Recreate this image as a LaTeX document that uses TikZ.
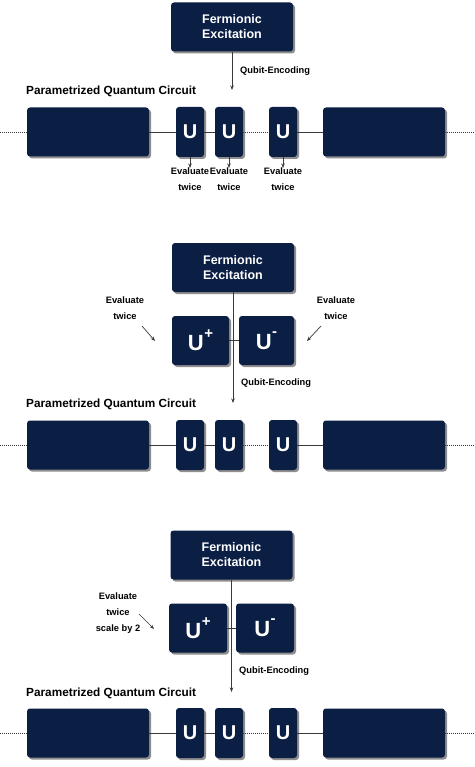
\documentclass[tikz,border=0pt]{standalone}
\usepackage{fontspec}
\setmainfont{Liberation Sans}
\usetikzlibrary{shadows,arrows.meta}
\definecolor{navy}{HTML}{0B1E44}
\definecolor{wire}{HTML}{3A3A3A}
\tikzset{
  qbox/.style={fill=navy, rounded corners=3pt, text=white, align=center, inner sep=0pt,
    drop shadow={shadow xshift=2pt, shadow yshift=-2pt, opacity=0.55, fill=black!80}},
  bigbox/.style={qbox, minimum width=122pt, minimum height=49pt},
  gate/.style={qbox, minimum width=28pt, minimum height=50pt, font=\bfseries\fontsize{20}{20}\selectfont},
  pmgate/.style={qbox, minimum height=49pt, font=\bfseries\fontsize{22}{22}\selectfont},
  fbox/.style={qbox, minimum width=122pt, minimum height=49pt, font=\bfseries\fontsize{12.5}{15}\selectfont},
  lbl/.style={font=\bfseries\fontsize{9.3}{16}\selectfont, align=center, inner sep=0pt, text=black},
  title/.style={font=\bfseries\fontsize{11.8}{14}\selectfont, anchor=west, inner sep=0pt},
  wireline/.style={draw=wire, line width=0.9pt},
  dotline/.style={draw=wire, line width=0.9pt, dash pattern=on 1pt off 1pt},
  arr/.style={draw=wire, line width=0.7pt, -{Stealth[length=4.5pt,width=3.5pt]}},
}
\newcommand{\mkcircuit}[2]{%
  \node[bigbox] (#1L) at (88,#2) {};
  \node[gate] (#1A) at (190,#2) {U};
  \node[gate] (#1B) at (229,#2) {U};
  \node[gate] (#1C) at (283,#2) {U};
  \node[bigbox] (#1R) at (384,#2) {};
  \coordinate (#1l0) at (0,#2);
  \coordinate (#1r0) at (474,#2);
  \draw[dotline] (#1l0) -- (#1L.west);
  \draw[wireline] (#1L.east) -- (#1A.west);
  \draw[wireline] (#1A.east) -- (#1B.west);
  \draw[dotline] (#1B.east) -- (#1C.west);
  \draw[wireline] (#1C.east) -- (#1R.west);
  \draw[dotline] (#1R.east) -- (#1r0);
}
\newcommand{\up}{U\hspace{0.5pt}\raisebox{1.05ex}{\fontsize{15}{15}\selectfont +}}
\newcommand{\um}{U\hspace{0.5pt}\raisebox{1.15ex}{\fontsize{15}{15}\selectfont -}}
\begin{document}
\begin{tikzpicture}[x=1pt,y=-1pt]
\useasboundingbox[fill=white] (0,0) rectangle (474,767);

% ---------- Panel 1 ----------
\node[fbox] (fe1) at (232,27) {Fermionic\\Excitation};
\coordinate (tip1) at (232,90);
\draw[arr] (fe1.south) -- (tip1);
\node[lbl, anchor=west] (qe1) at (240,71) {Qubit-Encoding};
\node[title] (pt1) at (26,91) {Parametrized Quantum Circuit};
\mkcircuit{a}{132}
\node[lbl, anchor=north] (ea1) at (190,168) {Evaluate\\twice};
\node[lbl, anchor=north] (ea2) at (229,168) {Evaluate\\twice};
\node[lbl, anchor=north] (ea3) at (283,168) {Evaluate\\twice};
\draw[arr] (aA.south) -- (ea1.north);
\draw[arr] (aB.south) -- (ea2.north);
\draw[arr] (aC.south) -- (ea3.north);

% ---------- Panel 2 ----------
\node[fbox] (fe2) at (233,267.5) {Fermionic\\Excitation};
\coordinate (tip2) at (233,403);
\draw[arr] (fe2.south) -- (tip2);
\node[pmgate, minimum width=57pt] (up2) at (200.5,340.5) {\up};
\node[pmgate, minimum width=55pt] (um2) at (266.5,340.5) {\um};
\draw[wireline] (up2.east) -- (um2.west);
\node[lbl] (el2) at (125,308.5) {Evaluate\\twice};
\node[lbl] (er2) at (336,308.5) {Evaluate\\twice};
\coordinate (el2a) at (142,326); \coordinate (el2b) at (155,341);
\coordinate (er2a) at (321,326); \coordinate (er2b) at (307,341);
\draw[arr] (el2a) -- (el2b);
\draw[arr] (er2a) -- (er2b);
\node[lbl, anchor=west] (qe2) at (241,383) {Qubit-Encoding};
\node[title] (pt2) at (26,404) {Parametrized Quantum Circuit};
\mkcircuit{b}{445}

% ---------- Panel 3 ----------
\node[fbox] (fe3) at (231.5,555) {Fermionic\\Excitation};
\coordinate (tip3) at (231.5,692);
\draw[arr] (fe3.south) -- (tip3);
\node[pmgate, minimum width=58pt] (up3) at (198,628) {\up};
\node[pmgate, minimum width=58pt] (um3) at (265,628) {\um};
\draw[wireline] (up3.east) -- (um3.west);
\node[lbl] (el3) at (118,613) {Evaluate\\twice\\scale by 2};
\coordinate (el3a) at (139,614); \coordinate (el3b) at (154,629);
\draw[arr] (el3a) -- (el3b);
\node[lbl, anchor=west] (qe3) at (239,671) {Qubit-Encoding};
\node[title] (pt3) at (26,693) {Parametrized Quantum Circuit};
\mkcircuit{c}{733}
\end{tikzpicture}
\end{document}
